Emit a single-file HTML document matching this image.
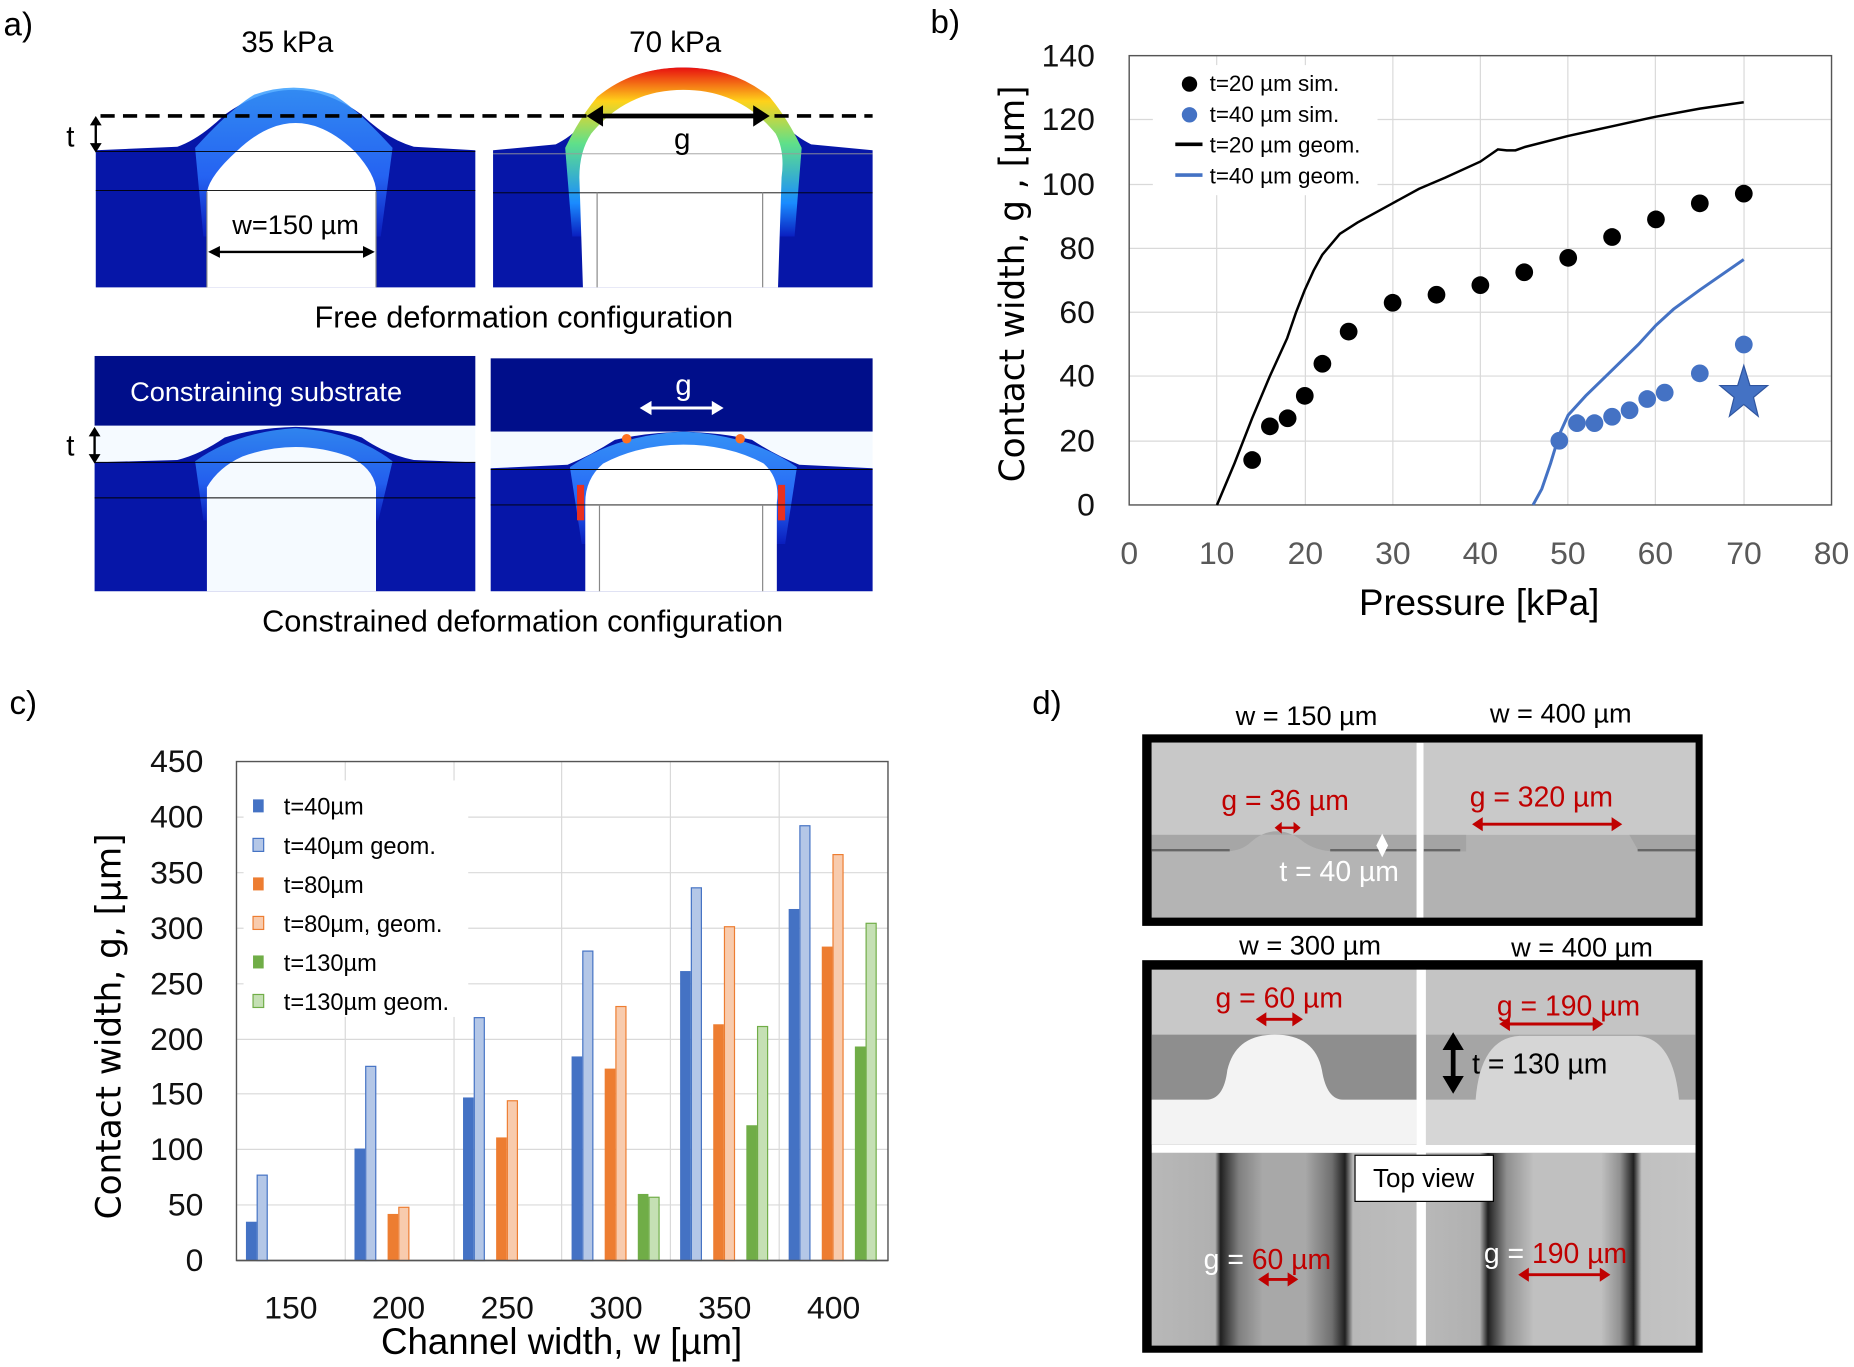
<!DOCTYPE html>
<html><head><meta charset="utf-8"><style>
html,body{margin:0;padding:0;background:#fff;}
svg{display:block;}
.n{font-family:"Liberation Sans Narrow","Liberation Sans",sans-serif;}
.s{font-family:"Liberation Sans",sans-serif;}
.d{font-family:"DejaVu Sans","Liberation Sans",sans-serif;}
</style></head><body>
<svg width="1854" height="1367" viewBox="0 0 1568 1156" xmlns="http://www.w3.org/2000/svg">
<defs>
<radialGradient id="archL" cx="0.5" cy="0.4" r="0.5">
<stop offset="0" stop-color="#1a5cff"/><stop offset="0.7" stop-color="#2f86ff"/><stop offset="1" stop-color="#0a1fc0"/></radialGradient>
<linearGradient id="hot" x1="0" y1="0" x2="0" y2="1">
<stop offset="0" stop-color="#e81010"/><stop offset="0.2" stop-color="#ffd21a"/><stop offset="0.45" stop-color="#5fe08a"/><stop offset="0.8" stop-color="#1a8cff"/><stop offset="1" stop-color="#0a1fc0"/></linearGradient>
<linearGradient id="cy" x1="0" y1="0" x2="0" y2="1">
<stop offset="0" stop-color="#3aa0ff"/><stop offset="0.6" stop-color="#2a70ff"/><stop offset="1" stop-color="#0a1fc0"/></linearGradient>
<linearGradient id="topv" x1="0" y1="0" x2="1" y2="0">
<stop offset="0" stop-color="#b8b8b8"/><stop offset="0.24" stop-color="#b0b0b0"/><stop offset="0.26" stop-color="#202020"/><stop offset="0.33" stop-color="#808080"/><stop offset="0.42" stop-color="#a8a8a8"/><stop offset="0.58" stop-color="#a8a8a8"/><stop offset="0.68" stop-color="#707070"/><stop offset="0.73" stop-color="#202020"/><stop offset="0.76" stop-color="#b8b8b8"/><stop offset="1" stop-color="#bdbdbd"/></linearGradient>
<linearGradient id="topv2" x1="0" y1="0" x2="1" y2="0">
<stop offset="0" stop-color="#b8b8b8"/><stop offset="0.2" stop-color="#b0b0b0"/><stop offset="0.23" stop-color="#202020"/><stop offset="0.3" stop-color="#909090"/><stop offset="0.4" stop-color="#c0c0c0"/><stop offset="0.65" stop-color="#c0c0c0"/><stop offset="0.72" stop-color="#909090"/><stop offset="0.77" stop-color="#202020"/><stop offset="0.8" stop-color="#c0c0c0"/><stop offset="1" stop-color="#c4c4c4"/></linearGradient>
</defs>

<!-- PANEL A -->
<text x="3" y="30" class="s" font-size="28">a)</text>
<text x="243" y="44" class="n" font-size="25" text-anchor="middle">35 kPa</text>
<text x="571" y="44" class="n" font-size="25" text-anchor="middle">70 kPa</text>
<!-- top left -->
<path d="M81,127 L150,124 Q168,118 190,97 Q248,55 306,97 Q328,118 350,124 L402,127 L402,243 L81,243 Z" fill="#0616a8"/>
<path d="M165,125 Q195,92 215,80 Q248,68 282,80 Q302,92 332,125 L322,200 L172,200 Z" fill="url(#cy)" opacity="0.85"/>
<path d="M175,243 L175,162 Q178,148 200,128 Q250,80 300,128 Q318,148 318,162 L318,243 Z" fill="#fff"/>
<line x1="81" y1="128" x2="402" y2="128" stroke="#000" stroke-width="0.8"/>
<line x1="81" y1="161" x2="402" y2="161" stroke="#000" stroke-width="0.8"/>
<line x1="175" y1="162" x2="175" y2="243" stroke="#888" stroke-width="1"/>
<line x1="318" y1="162" x2="318" y2="243" stroke="#888" stroke-width="1"/>
<text x="250" y="198" class="n" font-size="23" text-anchor="middle">w=150 µm</text>
<line x1="180" y1="213" x2="313" y2="213" stroke="#000" stroke-width="2"/>
<path d="M176,213 L186,208 L186,218Z M317,213 L307,208 L307,218Z"/>
<!-- top right -->
<path d="M417,127 L470,122 Q490,112 495,98 Q520,58 578,57 Q636,58 660,98 Q666,112 686,122 L738,127 L738,243 L417,243 Z" fill="#0616a8"/>
<path d="M478,125 Q490,100 505,82 Q535,57 578,57 Q621,57 651,82 Q666,100 678,125 L672,200 L484,200 Z" fill="url(#hot)"/>
<path d="M493,243 L490,150 Q490,128 500,113 Q530,76 578,76 Q626,76 656,113 Q664,128 661,150 L658,243 Z" fill="#fff"/>
<line x1="417" y1="130" x2="738" y2="130" stroke="#999" stroke-width="0.8"/>
<line x1="417" y1="163" x2="738" y2="163" stroke="#000" stroke-width="0.8"/>
<line x1="505" y1="163" x2="505" y2="243" stroke="#888"/>
<line x1="645" y1="163" x2="645" y2="243" stroke="#888"/>
<line x1="85" y1="98" x2="738" y2="98" stroke="#000" stroke-width="3" stroke-dasharray="12,7"/>
<line x1="505" y1="98" x2="643" y2="98" stroke="#000" stroke-width="4"/>
<path d="M496,98 L510,89 L510,107Z M651,98 L637,89 L637,107Z"/>
<text x="577" y="126" class="n" font-size="25" text-anchor="middle">g</text>
<text x="56" y="124" class="n" font-size="25">t</text>
<line x1="81" y1="103" x2="81" y2="124" stroke="#000" stroke-width="2"/>
<path d="M81,98 L76,106 L86,106Z M81,129 L76,121 L86,121Z"/>
<text x="443" y="277" class="n" font-size="26" text-anchor="middle">Free deformation configuration</text>

<!-- bottom left -->
<rect x="80" y="301" width="322" height="59" fill="#000e8a"/>
<text x="110" y="339" class="n" font-size="23" fill="#fff">Constraining substrate</text>
<rect x="80" y="360" width="322" height="33" fill="#f5faff"/>
<path d="M80,391 L150,389 Q170,384 190,370 Q215,362 250,361 Q285,362 306,370 Q326,384 350,389 L402,391 L402,500 L80,500 Z" fill="#0616a8"/>
<path d="M165,390 Q200,365 250,362 Q300,365 332,390 L320,440 L172,440Z" fill="url(#cy)" opacity="0.8"/>
<path d="M175,500 L175,412 Q185,395 205,386 Q250,370 295,386 Q315,395 318,412 L318,500 Z" fill="#f5faff"/>
<line x1="80" y1="391" x2="402" y2="391" stroke="#000" stroke-width="0.8"/>
<line x1="80" y1="421" x2="402" y2="421" stroke="#000" stroke-width="0.8"/>
<text x="56" y="385" class="n" font-size="25">t</text>
<line x1="80" y1="366" x2="80" y2="387" stroke="#000" stroke-width="2"/>
<path d="M80,361 L75,369 L85,369Z M80,392 L75,384 L85,384Z"/>
<!-- bottom right -->
<rect x="415" y="303" width="323" height="62" fill="#000e8a"/>
<text x="578" y="334" class="n" font-size="25" fill="#fff" text-anchor="middle">g</text>
<line x1="548" y1="345" x2="606" y2="345" stroke="#fff" stroke-width="2.5"/>
<path d="M541,345 L551,339 L551,351Z M612,345 L602,339 L602,351Z" fill="#fff"/>
<rect x="415" y="365" width="323" height="32" fill="#f5faff"/>
<path d="M415,396 L480,393 Q500,385 520,372 Q545,366 578,365 Q611,366 636,372 Q656,385 676,393 L738,396 L738,500 L415,500 Z" fill="#0616a8"/>
<path d="M482,395 Q520,368 578,365 Q636,368 674,395 L664,460 L492,460Z" fill="url(#cy)" opacity="0.9"/>
<circle cx="530" cy="371" r="4" fill="#ff7020"/><circle cx="626" cy="371" r="4" fill="#ff7020"/>
<rect x="488" y="410" width="6" height="30" fill="#e83020"/><rect x="658" y="410" width="6" height="30" fill="#e83020"/>
<path d="M495,500 L495,425 Q495,405 510,392 Q540,376 578,376 Q616,376 646,392 Q660,405 657,425 L657,500 Z" fill="#fff"/>
<line x1="415" y1="397" x2="738" y2="397" stroke="#000" stroke-width="0.8"/>
<line x1="415" y1="427" x2="738" y2="427" stroke="#000" stroke-width="0.8"/>
<line x1="507" y1="427" x2="507" y2="500" stroke="#888"/>
<line x1="645" y1="427" x2="645" y2="500" stroke="#888"/>
<text x="442" y="534" class="n" font-size="26" text-anchor="middle">Constrained deformation configuration</text>

<!-- PANEL B -->
<text x="787" y="28" class="s" font-size="28">b)</text>
<g stroke="#d9d9d9" stroke-width="1">
<line x1="955" y1="47" x2="1549" y2="47"/><line x1="955" y1="101" x2="1549" y2="101"/><line x1="955" y1="156" x2="1549" y2="156"/><line x1="955" y1="210" x2="1549" y2="210"/><line x1="955" y1="264" x2="1549" y2="264"/><line x1="955" y1="318" x2="1549" y2="318"/><line x1="955" y1="373" x2="1549" y2="373"/>
<line x1="1029" y1="47" x2="1029" y2="427"/><line x1="1104" y1="47" x2="1104" y2="427"/><line x1="1178" y1="47" x2="1178" y2="427"/><line x1="1252" y1="47" x2="1252" y2="427"/><line x1="1326" y1="47" x2="1326" y2="427"/><line x1="1400" y1="47" x2="1400" y2="427"/><line x1="1475" y1="47" x2="1475" y2="427"/>
</g>
<rect x="975" y="55" width="190" height="110" fill="#fff"/>
<rect x="955" y="47" width="594" height="380" fill="none" stroke="#555" stroke-width="1.2"/>
<g class="n" font-size="27" fill="#111" text-anchor="end">
<text x="926" y="56">140</text><text x="926" y="110">120</text><text x="926" y="165">100</text><text x="926" y="219">80</text><text x="926" y="273">60</text><text x="926" y="327">40</text><text x="926" y="382">20</text><text x="926" y="436">0</text></g>
<g class="n" font-size="27" fill="#595959" text-anchor="middle">
<text x="955" y="477">0</text><text x="1029" y="477">10</text><text x="1104" y="477">20</text><text x="1178" y="477">30</text><text x="1252" y="477">40</text><text x="1326" y="477">50</text><text x="1400" y="477">60</text><text x="1475" y="477">70</text><text x="1549" y="477">80</text></g>
<text x="1251" y="520" class="n" font-size="31" text-anchor="middle">Pressure [kPa]</text>
<text transform="translate(866,240) rotate(-90)" class="d" font-size="29" text-anchor="middle">Contact width, g , [µm]</text>
<g transform="translate(955,427) scale(7.425,-2.714)" fill="none">
<polyline vector-effect="non-scaling-stroke" stroke="#000" stroke-width="2.5" points="10,0 12,13 14,27 16,40 18,52 19,60 20,67 21,73 22,78 24,84.5 26,88 28,91 30,94 33,98.5 36,102 40,107 42,110.8 43,110.5 44,110.5 45,111.5 50,115 55,118 60,121 65,123.5 70,125.5"/>
<polyline vector-effect="non-scaling-stroke" stroke="#4472c4" stroke-width="3" points="46,0 47,5 48,13 49,22 50,28 52,34 55,42 58,50 60,56 62,61 65,67 70,76.5"/>
</g>
<g fill="#000">
<circle cx="1059" cy="389" r="7.5"/><circle cx="1074" cy="360.5" r="7.5"/><circle cx="1089" cy="353.7" r="7.5"/><circle cx="1103.5" cy="334.7" r="7.5"/><circle cx="1118.4" cy="307.6" r="7.5"/><circle cx="1140.6" cy="280.4" r="7.5"/><circle cx="1177.8" cy="256" r="7.5"/><circle cx="1214.9" cy="249.2" r="7.5"/><circle cx="1252" cy="241.1" r="7.5"/><circle cx="1289.1" cy="230.2" r="7.5"/><circle cx="1326.3" cy="218" r="7.5"/><circle cx="1363.4" cy="200.4" r="7.5"/><circle cx="1400.5" cy="185.5" r="7.5"/><circle cx="1437.6" cy="171.9" r="7.5"/><circle cx="1474.8" cy="163.7" r="7.5"/></g>
<g fill="#4472c4">
<circle cx="1318.8" cy="372.7" r="7.5"/><circle cx="1333.7" cy="357.8" r="7.5"/><circle cx="1348.5" cy="357.8" r="7.5"/><circle cx="1363.4" cy="352.4" r="7.5"/><circle cx="1378.2" cy="346.9" r="7.5"/><circle cx="1393.1" cy="337.4" r="7.5"/><circle cx="1407.9" cy="332" r="7.5"/><circle cx="1437.6" cy="315.7" r="7.5"/><circle cx="1474.8" cy="291.3" r="7.5"/>
<polygon points="1474.8,309 1480,326 1495,326 1483,336 1487,352 1474.8,342 1462.6,352 1466.6,336 1454.6,326 1469.6,326" stroke="#2f55a0" stroke-width="1"/></g>
<circle cx="1006" cy="71" r="6.5" fill="#000"/>
<circle cx="1006" cy="97" r="6.5" fill="#4472c4"/>
<line x1="994" y1="122" x2="1017" y2="122" stroke="#000" stroke-width="3"/>
<line x1="994" y1="148" x2="1017" y2="148" stroke="#4472c4" stroke-width="3"/>
<g class="n" font-size="19"><text x="1023" y="77">t=20 µm sim.</text><text x="1023" y="103">t=40 µm sim.</text><text x="1023" y="129">t=20 µm geom.</text><text x="1023" y="155">t=40 µm geom.</text></g>

<!-- PANEL C -->
<text x="8" y="604" class="s" font-size="28">c)</text>
<g stroke="#d9d9d9" stroke-width="1">
<line x1="200" y1="691" x2="751" y2="691"/><line x1="200" y1="738" x2="751" y2="738"/><line x1="200" y1="785" x2="751" y2="785"/><line x1="200" y1="832" x2="751" y2="832"/><line x1="200" y1="879" x2="751" y2="879"/><line x1="200" y1="925" x2="751" y2="925"/><line x1="200" y1="972" x2="751" y2="972"/><line x1="200" y1="1019" x2="751" y2="1019"/>
<line x1="292" y1="644" x2="292" y2="1066"/><line x1="384" y1="644" x2="384" y2="1066"/><line x1="475" y1="644" x2="475" y2="1066"/><line x1="567" y1="644" x2="567" y2="1066"/><line x1="659" y1="644" x2="659" y2="1066"/>
</g>
<rect x="206" y="660" width="190" height="200" fill="#fff"/>
<rect x="200" y="644" width="551" height="422" fill="none" stroke="#555" stroke-width="1.2"/>
<g transform="translate(0,1066) scale(1,-1)">
<g fill="#4472c4"><rect x="208" y="0" width="9" height="32.8"/><rect x="299.8" y="0" width="9" height="94.7"/><rect x="391.6" y="0" width="9" height="137.9"/><rect x="483.4" y="0" width="9" height="172.6"/><rect x="575.2" y="0" width="9" height="244.8"/><rect x="667" y="0" width="9" height="297.3"/></g>
<g fill="#b4c7e7" stroke="#4472c4" stroke-width="1"><rect x="217.5" y="0" width="8.5" height="72.2"/><rect x="309.3" y="0" width="8.5" height="164.2"/><rect x="401.1" y="0" width="8.5" height="205.4"/><rect x="492.9" y="0" width="8.5" height="261.7"/><rect x="584.7" y="0" width="8.5" height="315.2"/><rect x="676.5" y="0" width="8.5" height="367.7"/></g>
<g fill="#ed7d31"><rect x="327.8" y="0" width="9" height="39.4"/><rect x="419.6" y="0" width="9" height="104.1"/><rect x="511.4" y="0" width="9" height="162.3"/><rect x="603.2" y="0" width="9" height="199.8"/><rect x="695" y="0" width="9" height="265.5"/></g>
<g fill="#f8cbad" stroke="#ed7d31" stroke-width="1"><rect x="337.3" y="0" width="8.5" height="45"/><rect x="429.1" y="0" width="8.5" height="135.1"/><rect x="520.9" y="0" width="8.5" height="214.8"/><rect x="612.7" y="0" width="8.5" height="282.3"/><rect x="704.5" y="0" width="8.5" height="343.3"/></g>
<g fill="#70ad47"><rect x="539.4" y="0" width="9" height="56.3"/><rect x="631.2" y="0" width="9" height="114.4"/><rect x="723" y="0" width="9" height="181"/></g>
<g fill="#c5e0b4" stroke="#70ad47" stroke-width="1"><rect x="548.9" y="0" width="8.5" height="53.5"/><rect x="640.7" y="0" width="8.5" height="197.9"/><rect x="732.5" y="0" width="8.5" height="285.2"/></g>
</g>
<line x1="200" y1="1066" x2="751" y2="1066" stroke="#555" stroke-width="1.2"/>
<g class="n" font-size="27" fill="#111" text-anchor="end">
<text x="172" y="653">450</text><text x="172" y="700">400</text><text x="172" y="747">350</text><text x="172" y="794">300</text><text x="172" y="841">250</text><text x="172" y="888">200</text><text x="172" y="934">150</text><text x="172" y="981">100</text><text x="172" y="1028">50</text><text x="172" y="1075">0</text></g>
<g class="n" font-size="27" fill="#111" text-anchor="middle">
<text x="246" y="1115">150</text><text x="337" y="1115">200</text><text x="429" y="1115">250</text><text x="521" y="1115">300</text><text x="613" y="1115">350</text><text x="705" y="1115">400</text></g>
<text x="475" y="1145" class="n" font-size="31" text-anchor="middle">Channel width, w [µm]</text>
<text transform="translate(102,868) rotate(-90)" class="d" font-size="29" text-anchor="middle">Contact width, g, [µm]</text>
<rect x="214" y="676" width="9" height="11" fill="#4472c4"/>
<rect x="214" y="709" width="9" height="11" fill="#b4c7e7" stroke="#4472c4"/>
<rect x="214" y="742" width="9" height="11" fill="#ed7d31"/>
<rect x="214" y="775" width="9" height="11" fill="#f8cbad" stroke="#ed7d31"/>
<rect x="214" y="808" width="9" height="11" fill="#70ad47"/>
<rect x="214" y="841" width="9" height="11" fill="#c5e0b4" stroke="#70ad47"/>
<g class="n" font-size="20"><text x="240" y="689">t=40µm</text><text x="240" y="722">t=40µm geom.</text><text x="240" y="755">t=80µm</text><text x="240" y="788">t=80µm, geom.</text><text x="240" y="821">t=130µm</text><text x="240" y="854">t=130µm geom.</text></g>

<!-- PANEL D -->
<text x="873" y="604" class="s" font-size="28">d)</text>
<g class="s" font-size="23" text-anchor="middle"><text x="1105" y="613">w = 150 µm</text><text x="1320" y="611">w = 400 µm</text><text x="1108" y="807">w = 300 µm</text><text x="1338" y="809">w = 400 µm</text></g>
<rect x="966" y="621" width="474" height="162" fill="#000"/>
<rect x="974" y="628" width="224" height="148" fill="#b4b4b4"/>
<rect x="974" y="628" width="224" height="78" fill="#c8c8c8"/>
<path d="M974,706 L1198,706 L1198,720 L1130,720 Q1112,720 1100,710 Q1090,703 1080,703 Q1068,703 1058,712 Q1050,720 1035,720 L974,720Z" fill="#a6a6a6"/>
<line x1="974" y1="719" x2="1040" y2="719" stroke="#666" stroke-width="2"/>
<line x1="1125" y1="719" x2="1198" y2="719" stroke="#666" stroke-width="2"/>
<rect x="1204" y="628" width="230" height="148" fill="#b2b2b2"/>
<rect x="1204" y="628" width="230" height="78" fill="#c9c9c9"/>
<path d="M1204,706 L1240,706 L1240,720 L1204,720Z M1378,706 L1434,706 L1434,720 L1386,720 Z" fill="#a4a4a4"/>
<line x1="1204" y1="719" x2="1235" y2="719" stroke="#666" stroke-width="2"/>
<line x1="1385" y1="719" x2="1434" y2="719" stroke="#666" stroke-width="2"/>
<g class="s" font-size="24" fill="#c00000"><text x="1033" y="685">g = 36 µm</text><text x="1243" y="682">g = 320 µm</text></g>
<line x1="1083" y1="700" x2="1095" y2="700" stroke="#c00000" stroke-width="2"/>
<path d="M1078,700 L1084,695 L1084,705Z M1100,700 L1094,695 L1094,705Z" fill="#c00000"/>
<line x1="1252" y1="697" x2="1365" y2="697" stroke="#c00000" stroke-width="2.5"/>
<path d="M1245,697 L1254,691 L1254,703Z M1372,697 L1363,691 L1363,703Z" fill="#c00000"/>
<path d="M1169,705 L1174,715 L1169,725 L1164,715Z" fill="#fff"/>
<text x="1082" y="745" class="s" font-size="24" fill="#fff">t = 40 µm</text>

<rect x="966" y="812" width="474" height="332" fill="#000"/>
<rect x="974" y="820" width="224" height="148" fill="#c8c8c8"/>
<rect x="974" y="875" width="224" height="55" fill="#8e8e8e"/>
<path d="M974,930 L1020,930 Q1035,930 1038,905 Q1045,875 1078,875 Q1112,875 1118,905 Q1122,930 1136,930 L1198,930 L1198,968 L974,968Z" fill="#f3f3f3"/>
<rect x="1206" y="820" width="228" height="148" fill="#c4c4c4"/>
<rect x="1206" y="875" width="228" height="55" fill="#a5a5a5"/>
<path d="M1206,930 L1248,930 Q1252,878 1285,876 L1385,876 Q1415,878 1420,930 L1434,930 L1434,968 L1206,968Z" fill="#d6d6d6"/>
<rect x="974" y="975" width="224" height="163" fill="url(#topv)"/>
<rect x="1206" y="975" width="228" height="163" fill="url(#topv2)"/>
<rect x="974" y="968" width="460" height="7" fill="#fff"/>
<rect x="1198" y="628" width="6" height="148" fill="#fff"/>
<rect x="1198" y="820" width="8" height="318" fill="#fff"/>
<g class="s" font-size="24" fill="#c00000"><text x="1028" y="852">g = 60 µm</text><text x="1266" y="859">g = 190 µm</text></g>
<line x1="1067" y1="862" x2="1097" y2="862" stroke="#c00000" stroke-width="2.5"/>
<path d="M1062,862 L1071,856 L1071,868Z M1102,862 L1093,856 L1093,868Z" fill="#c00000"/>
<line x1="1274" y1="866" x2="1350" y2="866" stroke="#c00000" stroke-width="2.5"/>
<path d="M1268,866 L1277,860 L1277,872Z M1356,866 L1347,860 L1347,872Z" fill="#c00000"/>
<line x1="1229" y1="884" x2="1229" y2="916" stroke="#000" stroke-width="4"/>
<path d="M1229,873 L1220,888 L1238,888Z M1229,925 L1220,910 L1238,910Z"/>
<text x="1245" y="908" class="s" font-size="24">t = 130 µm</text>
<rect x="1146" y="977" width="117" height="39" fill="#fff" stroke="#000" stroke-width="1"/>
<text x="1204" y="1004" class="s" font-size="22" text-anchor="middle">Top  view</text>
<text x="1018" y="1073" class="s" font-size="24"><tspan fill="#fff">g = </tspan><tspan fill="#c00000">60 µm</tspan></text>
<text x="1255" y="1068" class="s" font-size="24"><tspan fill="#fff">g = </tspan><tspan fill="#c00000">190 µm</tspan></text>
<line x1="1070" y1="1082" x2="1092" y2="1082" stroke="#c00000" stroke-width="2.5"/>
<path d="M1064,1082 L1073,1076 L1073,1088Z M1098,1082 L1089,1076 L1089,1088Z" fill="#c00000"/>
<line x1="1290" y1="1078" x2="1356" y2="1078" stroke="#c00000" stroke-width="2.5"/>
<path d="M1284,1078 L1293,1072 L1293,1084Z M1362,1078 L1353,1072 L1353,1084Z" fill="#c00000"/>
</svg>
</body></html>
